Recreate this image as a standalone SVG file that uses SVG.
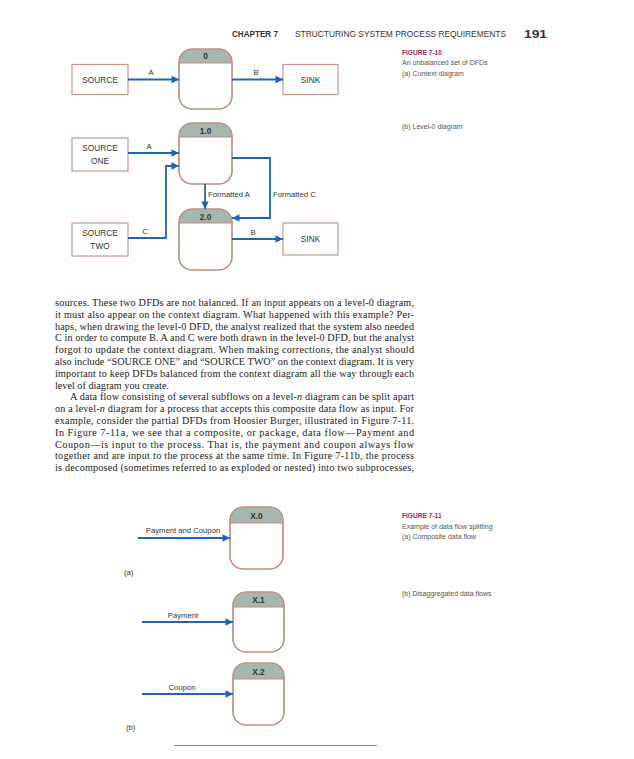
<svg xmlns="http://www.w3.org/2000/svg" width="634" height="759" viewBox="0 0 634 759">
<defs>
<style>
.hd{font-family:"Liberation Sans",Arial,sans-serif;fill:#333}
.box{fill:#fff;stroke:#c8968d;stroke-width:1.2}
.proc{fill:#fff;stroke:#c48a80;stroke-width:1.2}
.phead{fill:#a6b7af;stroke:none}
.sep{stroke:#c48a80;stroke-width:1}
.bt{font-family:"Liberation Sans",Arial,sans-serif;font-size:8.3px;fill:#333;text-anchor:middle}
.pt{font-family:"Liberation Sans",Arial,sans-serif;font-size:8.3px;font-weight:bold;fill:#333;text-anchor:middle}
.lb{font-family:"Liberation Sans",Arial,sans-serif;font-size:7.7px;fill:#333}
.lbm{font-family:"Liberation Sans",Arial,sans-serif;font-size:7.7px;fill:#333;text-anchor:middle}
.flow{fill:none;stroke:#1c66b6;stroke-width:1.8;marker-end:url(#ah)}
.cfig{font-family:"Liberation Sans",Arial,sans-serif;font-size:6.6px;font-weight:bold;fill:#9c2a5e}
.cap{font-family:"Liberation Sans",Arial,sans-serif;font-size:7px;fill:#555}
.body{font-family:"Liberation Serif","Times New Roman",serif;font-size:10.2px;fill:#222}
</style>
<marker id="ah" viewBox="0 0 10 10" refX="10" refY="5" markerWidth="9" markerHeight="7.5" markerUnits="userSpaceOnUse" orient="auto">
<path d="M0,0 L10,5 L0,10 Z" fill="#1c66b6"/>
</marker>
</defs>
<rect width="634" height="759" fill="#fff"/>

<!-- running header -->
<g id="header">
<text class="hd" x="232" y="37" font-size="8.8" font-weight="bold" textLength="46" lengthAdjust="spacingAndGlyphs">CHAPTER 7</text>
<text class="hd" x="295" y="37" font-size="8.8" textLength="211" lengthAdjust="spacingAndGlyphs">STRUCTURING SYSTEM PROCESS REQUIREMENTS</text>
<text class="hd" x="524" y="37.5" font-size="11.5" font-weight="bold" textLength="23" lengthAdjust="spacingAndGlyphs">191</text>
</g>

<!-- Figure 7-10 captions -->
<g id="caption-7-10">
<text class="cfig" x="402" y="54.5">FIGURE 7-10</text>
<text class="cap" x="402" y="65">An unbalanced set of DFDs</text>
<text class="cap" x="402" y="76">(a) Context diagram</text>
<text class="cap" x="402" y="129">(b) Level-0 diagram</text>
</g>

<!-- Figure 7-10 (a) -->
<g id="a-source">
<rect class="box" x="72" y="64.5" width="56" height="30"/>
<text class="bt" x="100" y="82.5">SOURCE</text>
</g>
<g id="a-proc0">
<rect class="proc" x="179" y="49" width="53" height="60" rx="13"/>
<path class="phead" d="M179,63 V62 A13 13 0 0 1 192,49 H219 A13 13 0 0 1 232,62 V63 Z"/>
<line class="sep" x1="179" y1="63" x2="232" y2="63"/>
<rect x="179" y="49" width="53" height="60" rx="13" fill="none" stroke="#c48a80" stroke-width="1.2"/>
<text class="pt" x="205.5" y="59">0</text>
</g>
<g id="a-sink">
<rect class="box" x="283" y="64.5" width="55" height="30"/>
<text class="bt" x="310.5" y="82.5">SINK</text>
</g>

<!-- Figure 7-10 (b) -->
<g id="b-source-one">
<rect class="box" x="72" y="138" width="56" height="33"/>
<text class="bt" x="100" y="151">SOURCE</text>
<text class="bt" x="100" y="164">ONE</text>
</g>
<g id="b-source-two">
<rect class="box" x="72" y="223" width="56" height="33"/>
<text class="bt" x="100" y="236">SOURCE</text>
<text class="bt" x="100" y="249">TWO</text>
</g>
<g id="b-proc1">
<rect class="proc" x="179" y="123" width="53" height="61" rx="13"/>
<path class="phead" d="M179,137 V136 A13 13 0 0 1 192,123 H219 A13 13 0 0 1 232,136 V137 Z"/>
<line class="sep" x1="179" y1="137" x2="232" y2="137"/>
<rect x="179" y="123" width="53" height="61" rx="13" fill="none" stroke="#c48a80" stroke-width="1.2"/>
<text class="pt" x="205.5" y="133.5">1.0</text>
</g>
<g id="b-proc2">
<rect class="proc" x="179" y="209" width="53" height="61" rx="13"/>
<path class="phead" d="M179,223 V222 A13 13 0 0 1 192,209 H219 A13 13 0 0 1 232,222 V223 Z"/>
<line class="sep" x1="179" y1="223" x2="232" y2="223"/>
<rect x="179" y="209" width="53" height="61" rx="13" fill="none" stroke="#c48a80" stroke-width="1.2"/>
<text class="pt" x="205.5" y="219.5">2.0</text>
</g>
<g id="b-sink">
<rect class="box" x="283" y="223" width="55" height="32"/>
<text class="bt" x="310.5" y="242">SINK</text>
</g>

<!-- Figure 7-11 -->
<g id="caption-7-11">
<text class="cfig" x="402" y="518">FIGURE 7-11</text>
<text class="cap" x="402" y="528.5">Example of data flow splitting</text>
<text class="cap" x="402" y="539">(a) Composite data flow</text>
<text class="cap" x="402" y="596">(b) Disaggregated data flows</text>
</g>
<g id="proc-x0">
<rect class="proc" x="230" y="507" width="53" height="62" rx="13"/>
<path class="phead" d="M230,523 V520 A13 13 0 0 1 243,507 H270 A13 13 0 0 1 283,520 V523 Z"/>
<line class="sep" x1="230" y1="523" x2="283" y2="523"/>
<rect x="230" y="507" width="53" height="62" rx="13" fill="none" stroke="#c48a80" stroke-width="1.2"/>
<text class="pt" x="256.5" y="518.5">X.0</text>
</g>
<g id="proc-x1">
<rect class="proc" x="233" y="592" width="51" height="60" rx="13"/>
<path class="phead" d="M233,607 V605 A13 13 0 0 1 246,592 H271 A13 13 0 0 1 284,605 V607 Z"/>
<line class="sep" x1="233" y1="607" x2="284" y2="607"/>
<rect x="233" y="592" width="51" height="60" rx="13" fill="none" stroke="#c48a80" stroke-width="1.2"/>
<text class="pt" x="258.5" y="602.5">X.1</text>
</g>
<g id="proc-x2">
<rect class="proc" x="233" y="663" width="51" height="62" rx="13"/>
<path class="phead" d="M233,679 V676 A13 13 0 0 1 246,663 H271 A13 13 0 0 1 284,676 V679 Z"/>
<line class="sep" x1="233" y1="679" x2="284" y2="679"/>
<rect x="233" y="663" width="51" height="62" rx="13" fill="none" stroke="#c48a80" stroke-width="1.2"/>
<text class="pt" x="258.5" y="674.5">X.2</text>
</g>
<g id="fig-labels">
<text class="lb" x="124" y="575">(a)</text>
<text class="lb" x="126" y="730">(b)</text>
</g>

<!-- connectors -->
<g id="connectors">
<path class="flow" d="M128,79.5 H179"/>
<path class="flow" d="M232,79.5 H283"/>
<path class="flow" d="M128,153 H179"/>
<path class="flow" d="M128,238 H166 V166 H179"/>
<path class="flow" d="M205,184 V209"/>
<path class="flow" d="M232,158 H270 V218 H232"/>
<path class="flow" d="M232,239 H283"/>
<path class="flow" d="M138,538 H230"/>
<path class="flow" d="M142,622 H233"/>
<path class="flow" d="M142,694 H233"/>
<text class="lbm" x="151" y="74.5">A</text>
<text class="lbm" x="256" y="74.5">B</text>
<text class="lbm" x="149" y="149">A</text>
<text class="lbm" x="145" y="234">C</text>
<text class="lb" x="208" y="197">Formatted A</text>
<text class="lb" x="273" y="197">Formatted C</text>
<text class="lbm" x="253" y="234.5">B</text>
<text class="lbm" x="183" y="532.5">Payment and Coupon</text>
<text class="lbm" x="183" y="617.5">Payment</text>
<text class="lbm" x="182" y="689.5">Coupon</text>
</g>

<!-- body text -->
<g id="body-text" class="body">
<text x="55" y="306" textLength="359" lengthAdjust="spacing">sources. These two DFDs are not balanced. If an input appears on a level-0 diagram,</text>
<text x="55" y="317.8" textLength="359" lengthAdjust="spacing">it must also appear on the context diagram. What happened with this example? Per-</text>
<text x="55" y="329.6" textLength="359" lengthAdjust="spacing">haps, when drawing the level-0 DFD, the analyst realized that the system also needed</text>
<text x="55" y="341.4" textLength="359" lengthAdjust="spacing">C in order to compute B. A and C were both drawn in the level-0 DFD, but the analyst</text>
<text x="55" y="353.2" textLength="359" lengthAdjust="spacing">forgot to update the context diagram. When making corrections, the analyst should</text>
<text x="55" y="365" textLength="359" lengthAdjust="spacing">also include “SOURCE ONE” and “SOURCE TWO” on the context diagram. It is very</text>
<text x="55" y="376.8" textLength="359" lengthAdjust="spacing">important to keep DFDs balanced from the context diagram all the way through each</text>
<text x="55" y="388.6">level of diagram you create.</text>
<text x="70" y="400.4" textLength="344" lengthAdjust="spacing">A data flow consisting of several subflows on a level-<tspan font-style="italic">n</tspan> diagram can be split apart</text>
<text x="55" y="412.2" textLength="359" lengthAdjust="spacing">on a level-<tspan font-style="italic">n</tspan> diagram for a process that accepts this composite data flow as input. For</text>
<text x="55" y="424" textLength="359" lengthAdjust="spacing">example, consider the partial DFDs from Hoosier Burger, illustrated in Figure 7-11.</text>
<text x="55" y="435.8" textLength="359" lengthAdjust="spacing">In Figure 7-11a, we see that a composite, or package, data flow—Payment and</text>
<text x="55" y="447.6" textLength="359" lengthAdjust="spacing">Coupon—is input to the process. That is, the payment and coupon always flow</text>
<text x="55" y="459.4" textLength="359" lengthAdjust="spacing">together and are input to the process at the same time. In Figure 7-11b, the process</text>
<text x="55" y="471.2" textLength="359" lengthAdjust="spacing">is decomposed (sometimes referred to as exploded or nested) into two subprocesses,</text>
</g>

<line x1="174" y1="745.5" x2="377" y2="745.5" stroke="#8a8a8a" stroke-width="1"/>
</svg>
